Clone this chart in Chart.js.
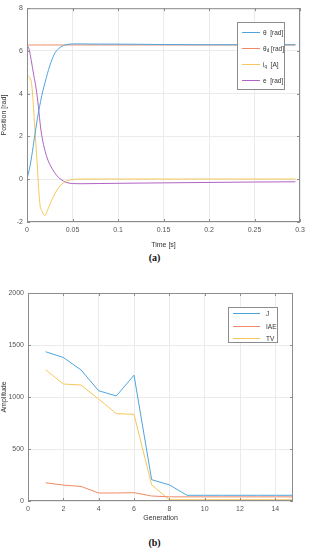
<!DOCTYPE html>
<html>
<head>
<meta charset="utf-8">
<script src="https://cdn.jsdelivr.net/npm/chart.js@4.4.0/dist/chart.umd.min.js"></script>
<style>
  body { margin: 0; background: #fff; }
  #page { position: relative; width: 309px; height: 550px; overflow: hidden; }
  canvas { position: absolute; left: 0; }
  .legend { position: absolute; border: 1px solid #8c8c8c; background: #fff; box-sizing: border-box; }
  .legend .row { position: absolute; height: 10px; font: 6.5px "Liberation Sans", Arial, sans-serif; color: #333; white-space: nowrap; }
  .legend .row span.ln { position: absolute; top: 4px; height: 1px; }
  .legend .row span.tx { position: absolute; top: 0; line-height: 10px; }
  .legend sub { font-size: 4.5px; vertical-align: -1px; }
  .caption { position: absolute; left: 0; width: 309px; text-align: center; font: bold 10px "Liberation Serif", "Times New Roman", serif; color: #111; }
</style>
</head>
<body>
<div id="page">
  <canvas id="chartA" width="309" height="252" style="top:0"></canvas>
  <div class="caption" style="top:252px">(a)</div>
  <canvas id="chartB" width="309" height="245" style="top:280px"></canvas>
  <div class="caption" style="top:537px">(b)</div>
</div>
<script>
// ---- (a) time response ----
const time = [0, 0.0025, 0.0045, 0.0075, 0.01, 0.0125, 0.015, 0.0175, 0.02, 0.0225, 0.025, 0.03, 0.035, 0.04, 0.045, 0.05, 0.06, 0.08, 0.1, 0.15, 0.2, 0.25, 0.295];
const theta = [0, 0.45, 0.9, 1.75, 2.45, 3.1, 3.65, 4.15, 4.55, 4.95, 5.3, 5.85, 6.12, 6.25, 6.31, 6.33, 6.33, 6.32, 6.32, 6.3, 6.29, 6.29, 6.29];
const thetaRef = [6.28, 6.28, 6.28, 6.28, 6.28, 6.28, 6.28, 6.28, 6.28, 6.28, 6.28, 6.28, 6.28, 6.28, 6.28, 6.28, 6.28, 6.28, 6.28, 6.28, 6.28, 6.28, 6.28];
const error = [6.28, 6.05, 5.6, 4.85, 4.25, 3.4, 2.4, 1.75, 1.3, 0.95, 0.7, 0.33, 0.07, -0.08, -0.17, -0.2, -0.21, -0.2, -0.19, -0.17, -0.15, -0.13, -0.12];
const iqTime = [0, 0.0045, 0.0088, 0.0115, 0.014, 0.0165, 0.0197, 0.023, 0.027, 0.031, 0.035, 0.04, 0.045, 0.05, 0.06, 0.1, 0.2, 0.295];
const iq = [4.85, 4.6, 2.26, 0.5, -1.1, -1.5, -1.7, -1.4, -1.0, -0.65, -0.38, -0.17, -0.06, -0.01, 0.01, 0.01, 0.01, 0.01];
const timeTicks = [0, 0.05, 0.1, 0.15, 0.2, 0.25, 0.3];
const positionTicks = [-2, 0, 2, 4, 6, 8];
const seriesA = ['θ [rad]', 'θd [rad]', 'iq [A]', 'e [rad]'];
const legendA = ['θ&nbsp; [rad]', 'θ<sub>d</sub> [rad]', 'i<sub>q</sub>&nbsp; [A]', 'e&nbsp; [rad]'];

// ---- (b) optimisation ----
const generations = [1, 2, 3, 4, 5, 6, 7, 8, 9, 10, 11, 12, 13, 14, 15];
const costJ = [1435, 1380, 1260, 1060, 1010, 1210, 205, 155, 55, 55, 55, 55, 55, 55, 55];
const costIAE = [175, 153, 140, 77, 77, 80, 48, 40, 40, 40, 40, 40, 40, 40, 40];
const costTV = [1262, 1125, 1115, 980, 840, 833, 155, 12, 12, 12, 12, 12, 12, 12, 12];
const generationTicks = [0, 2, 4, 6, 8, 10, 12, 14];
const amplitudeTicks = [0, 500, 1000, 1500, 2000];
const seriesB = ['J', 'IAE', 'TV'];

const colors = ['#4ea5de', '#ef8a66', '#f6c75a', '#b064c2'];
const font = { family: '"Liberation Sans", Arial, sans-serif', size: 7 };
const tickColor = '#555';

const pairs = (xs, ys) => xs.map((x, i) => ({ x: x, y: ys[i] }));

// box around the plot area with MATLAB-style inward ticks
const boxPlugin = {
    id: 'box',
    afterDraw(chart) {
        const { ctx, chartArea: a, scales } = chart;
        ctx.save();
        ctx.strokeStyle = '#8c8c8c';
        ctx.lineWidth = 1;
        ctx.strokeRect(a.left + 0.5, a.top + 0.5, a.right - a.left - 1, a.bottom - a.top - 1);
        ctx.beginPath();
        scales.x.ticks.forEach(t => {
            const x = Math.round(scales.x.getPixelForValue(t.value)) + 0.5;
            ctx.moveTo(x, a.top); ctx.lineTo(x, a.top + 3);
            ctx.moveTo(x, a.bottom); ctx.lineTo(x, a.bottom - 3);
        });
        scales.y.ticks.forEach(t => {
            const y = Math.round(scales.y.getPixelForValue(t.value)) + 0.5;
            ctx.moveTo(a.left, y); ctx.lineTo(a.left + 3, y);
            ctx.moveTo(a.right, y); ctx.lineTo(a.right - 3, y);
        });
        ctx.stroke();
        ctx.restore();
    }
};

function axis(min, max, values, size, sideKey, title) {
    return {
        type: 'linear',
        min: min,
        max: max,
        afterBuildTicks: s => { s.ticks = values.map(v => ({ value: v })); },
        afterFit: s => { s[sideKey] = size; },
        ticks: { font: font, color: tickColor, padding: 4, maxRotation: 0, autoSkip: false, callback: v => String(v) },
        grid: { color: '#ebebeb', drawTicks: false },
        border: { display: false },
        title: { display: true, text: title, font: font, color: '#333', padding: { top: 0, bottom: 3 } }
    };
}

function lineSet(label, data, color, smooth) {
    return {
        label: label,
        data: data,
        borderColor: color,
        backgroundColor: color,
        borderWidth: 1,
        pointRadius: 0,
        fill: false,
        cubicInterpolationMode: smooth ? 'monotone' : 'default',
        tension: 0
    };
}

function makeLegend(chartEl, names, box, rowTop, rowGap, lineX, lineW, textX) {
    const page = document.getElementById('page');
    const lg = document.createElement('div');
    lg.className = 'legend';
    Object.assign(lg.style, { left: box[0] + 'px', top: box[1] + 'px', width: box[2] + 'px', height: box[3] + 'px' });
    names.forEach((n, i) => {
        const row = document.createElement('div');
        row.className = 'row';
        row.style.top = (rowTop + i * rowGap - 5) + 'px';
        row.style.left = '0px';
        row.innerHTML = '<span class="ln" style="left:' + lineX + 'px;width:' + lineW + 'px;background:' + colors[i] + '"></span>' +
            '<span class="tx" style="left:' + textX + 'px">' + n + '</span>';
        lg.appendChild(row);
    });
    page.appendChild(lg);
}

new Chart(document.getElementById('chartA'), {
    type: 'line',
    data: {
        datasets: [
            lineSet(seriesA[0], pairs(time, theta), colors[0], true),
            lineSet(seriesA[1], pairs(time, thetaRef), colors[1], false),
            lineSet(seriesA[2], pairs(iqTime, iq), colors[2], true),
            lineSet(seriesA[3], pairs(time, error), colors[3], true)
        ]
    },
    options: {
        responsive: false,
        animation: false,
        layout: { padding: { top: 6, right: 9, left: 0, bottom: 0 } },
        plugins: { legend: { display: false }, tooltip: { enabled: false } },
        scales: {
            x: axis(0, 0.3, timeTicks, 30, 'height', 'Time [s]'),
            y: axis(-2, 8, positionTicks, 27, 'width', 'Position [rad]')
        }
    },
    plugins: [boxPlugin]
});

new Chart(document.getElementById('chartB'), {
    type: 'line',
    data: {
        datasets: [
            lineSet(seriesB[0], pairs(generations, costJ), colors[0], false),
            lineSet(seriesB[1], pairs(generations, costIAE), colors[1], false),
            lineSet(seriesB[2], pairs(generations, costTV), colors[2], false)
        ]
    },
    options: {
        responsive: false,
        animation: false,
        layout: { padding: { top: 13, right: 16, left: 0, bottom: 0 } },
        plugins: { legend: { display: false }, tooltip: { enabled: false } },
        scales: {
            x: axis(0, 15, generationTicks, 24, 'height', 'Generation'),
            y: axis(0, 2000, amplitudeTicks, 28, 'width', 'Amplitude')
        }
    },
    plugins: [boxPlugin]
});

makeLegend('chartA', legendA, [237, 22, 48, 68], 9.5, 16.2, 4, 18, 25);
makeLegend('chartB', seriesB, [228, 307, 50, 36], 6.3, 12.2, 4, 27, 37);
</script>
</body>
</html>
